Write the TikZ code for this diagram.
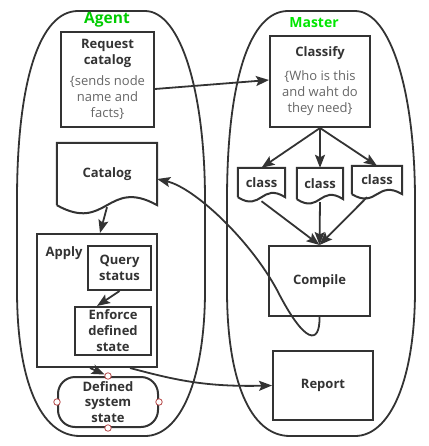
\documentclass[tikz,border=0pt]{standalone}
\usepackage{fontspec}
\setmainfont{Open Sans}
\usetikzlibrary{arrows.meta,calc}
\definecolor{ink}{HTML}{333333}
\definecolor{soft}{HTML}{666666}
\definecolor{agentgreen}{RGB}{0,204,0}
\definecolor{mastergreen}{RGB}{0,230,0}
\definecolor{portred}{RGB}{180,70,70}
\newcommand\docoutline[2]{\draw[boxln] (#1.south west) -- (#1.north west) -- (#1.north east) -- (#1.south east) .. controls ($(#1.south)+(0,-#2)$) and ($(#1.south)+(0,#2)$) .. (#1.south west);}
\newcommand\nt[1]{\textcolor{soft}{\mdseries #1}}
\begin{document}
\begin{tikzpicture}[x=1pt,y=-1pt,
  boxln/.style={draw=ink,line width=2pt},
  box/.style={boxln,rectangle,inner sep=0pt,align=center,text=ink,font=\fontsize{13}{16}\selectfont\bfseries},
  docnode/.style={rectangle,inner sep=0pt,align=center,text=ink,font=\fontsize{13}{16}\selectfont\bfseries},
  container/.style={draw=ink,line width=1.8pt},
  arr/.style={draw=ink,line width=1.8pt,-{Stealth[length=13pt,width=10pt,inset=2.5pt]}},
  port/.style={circle,draw=portred,fill=white,line width=0.8pt,minimum size=6.5pt,inner sep=0pt}]
\useasboundingbox (0,0) rectangle (428,446);
% containers
\draw[container] (78,11) -- (145,11) .. controls (180,11) and (205,90) .. (205,200) -- (205,290) .. controls (205,380) and (180,436) .. (145,436) -- (80,436) .. controls (40,436) and (17,380) .. (17,290) -- (17,200) .. controls (17,80) and (40,11) .. (78,11) -- cycle;
\draw[container] (288,11) -- (355,11) .. controls (390,11) and (415,90) .. (415,200) -- (415,290) .. controls (415,380) and (390,436) .. (355,436) -- (290,436) .. controls (250,436) and (227,380) .. (227,290) -- (227,200) .. controls (227,80) and (250,11) .. (288,11) -- cycle;
\node[text=agentgreen,font=\fontsize{15.5}{18}\selectfont\bfseries] (agentlbl) at (107,20) {Agent};
\node[text=mastergreen,font=\fontsize{14}{16}\selectfont\bfseries] (masterlbl) at (314,23) {Master};
% agent nodes
\node[box,minimum width=93pt,minimum height=95pt] (req) at (107.5,79.5)
  {Request\\catalog\\[5pt]\nt{\{sends node}\\\nt{name and}\\\nt{facts\}}};
\node[docnode,minimum width=100pt,minimum height=62pt] (catalog) at (107,174) {Catalog};
\docoutline{catalog}{28}
\node[box,minimum width=120pt,minimum height=133pt] (apply) at (97,300.5) {};
\node[text=ink,font=\fontsize{13}{16}\selectfont\bfseries] (applylbl) at (64,253) {Apply};
\node[box,minimum width=63pt,minimum height=44pt] (query) at (119.5,268) {Query\\status};
\node[box,minimum width=76pt,minimum height=48pt] (enforce) at (113,331) {Enforce\\defined\\state};
\node[box,minimum width=100pt,minimum height=50pt,rounded corners=17pt,font=\fontsize{13}{15.5}\selectfont\bfseries] (defined) at (108,402) {Defined\\system\\state};
\foreach \a in {north,south,east,west} \node[port] (p\a) at (defined.\a) {};
% master nodes
\node[box,minimum width=100pt,minimum height=91pt] (classify) at (320,81.5)
  {Classify\\[8pt]\nt{\{Who is this}\\\nt{and waht do}\\\nt{they need\}}};
\node[docnode,minimum width=47pt,minimum height=29pt] (class1) at (261.5,182.5) {class};
\node[docnode,minimum width=46pt,minimum height=31pt] (class2) at (320,183.5) {class};
\node[docnode,minimum width=50pt,minimum height=28pt] (class3) at (377,180) {class};
\docoutline{class1}{15}
\docoutline{class2}{15}
\docoutline{class3}{15}
\node[box,minimum width=101pt,minimum height=70pt] (compile) at (319.5,281) {Compile};
\node[box,minimum width=100pt,minimum height=69pt] (report) at (323,385.5) {Report};
% connectors
\draw[arr] ([yshift=-9.5pt]req.east) -- ([yshift=1.5pt]classify.west);
\draw[arr] (classify.south) -- (class1.north);
\draw[arr] (classify.south) -- (class2.north);
\draw[arr] (classify.south) -- (class3.north);
\draw[arr] ([yshift=-4pt]class1.south) -- (compile.north);
\draw[arr] ([yshift=-3pt]class2.south) -- (compile.north);
\draw[arr] ([xshift=-10pt,yshift=-3pt]class3.south) -- (compile.north);
\draw[arr] ([yshift=-2pt]catalog.south) -- ([xshift=3pt]apply.north);
\draw[arr] (query.south) -- ([xshift=-16pt]enforce.north);
\draw[arr] ([xshift=-7pt]apply.south) -- (pnorth);
\draw[arr] ([xshift=33pt]apply.south) .. controls (175,380) and (205,387) .. (report.west);
\draw[arr] (compile.south) .. controls (320,345) and (305,345) .. (277,290) .. controls (250,240) and (195,188) .. ([yshift=-5pt]catalog.east);
\end{tikzpicture}
\end{document}
